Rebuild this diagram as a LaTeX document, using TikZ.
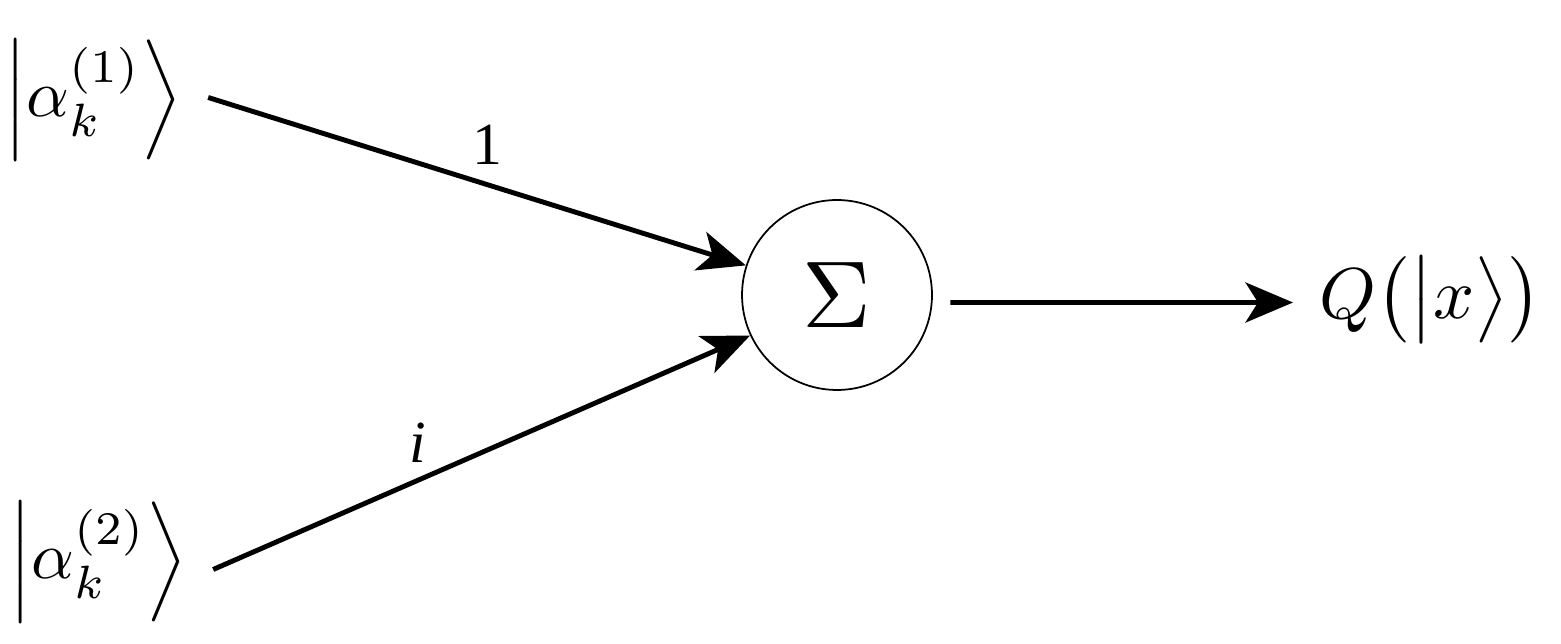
\documentclass[tikz,border=0pt]{standalone}
\usepackage{fontspec}
\setmainfont{Liberation Serif}
\usetikzlibrary{arrows.meta}
\begin{document}
\begin{tikzpicture}[x=0.02cm,y=-0.02cm,
  arr/.style={line width=2.8pt,-{Stealth[length=0.95cm,width=0.8cm,inset=0.25cm]}},
  big/.style={scale=3.8, inner sep=0pt},
  lab/.style={font=\fontsize{34}{40}\selectfont, inner sep=0pt}]
\useasboundingbox (0,0) rectangle (1561,644);
\node[big] (a1) at (93,100) {$\Big|\alpha_k^{(1)}\Big\rangle$};
\node[big] (a2) at (98,562) {$\Big|\alpha_k^{(2)}\Big\rangle$};
\node[circle,draw,line width=1pt,minimum size=3.8cm,inner sep=0pt] (s) at (837,295) {};
\node[scale=5.4] (sg) at (s.center) {$\Sigma$};
\node[scale=4.1,inner sep=0pt,anchor=west] (q) at (1318,300) {$Q\big(\big|x\big\rangle\big)$};
\draw[arr] ([xshift=0.5cm,yshift=0.05cm]a1.east) -- (s.{162});
\draw[arr] ([xshift=0.5cm,yshift=-0.15cm]a2.east) -- (s.{205});
\draw[arr] ([xshift=0.35cm,yshift=-0.15cm]s.east) -- ([xshift=-0.5cm,yshift=-0.05cm]q.west);
\node[lab] (l1) at (487,145) {1};
\node[lab,font=\fontsize{34}{40}\selectfont\itshape] (l2) at (418,443) {i};
\end{tikzpicture}
\end{document}
